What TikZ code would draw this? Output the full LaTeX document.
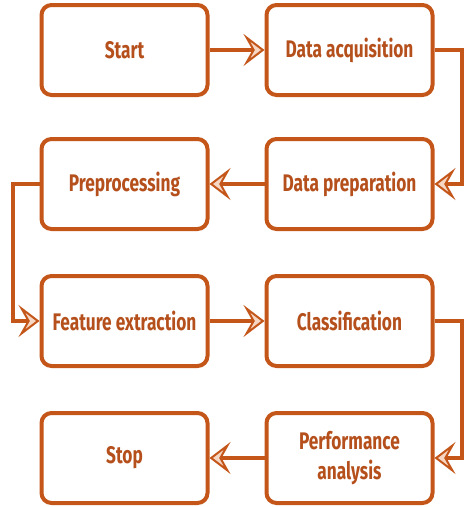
\documentclass[tikz,border=0pt]{standalone}
\usepackage{fontspec}
\setmainfont{Fira Sans}
\newfontfamily\boxfont[FakeStretch=0.72]{Fira Sans}
\usetikzlibrary{arrows.meta}
\definecolor{boxorange}{HTML}{C4561A}
\definecolor{txtorange}{HTML}{B5501C}
\definecolor{tipfill}{HTML}{F6D7C4}
\tikzset{
  stepbox/.style={draw=boxorange, line width=4pt, rounded corners=10pt, fill=white,
    minimum width=166pt, minimum height=90pt, inner sep=0pt,
    text=txtorange, font=\boxfont\fontsize{24}{30}\selectfont\bfseries, align=center},
  flow/.style={draw=boxorange, line width=4.5pt,
    -{Stealth[length=21pt, width=32pt, inset=9pt, fill=tipfill, line width=2pt]}}
}
\begin{document}
\begin{tikzpicture}[x=1pt, y=-1pt]
\useasboundingbox (0,0) rectangle (474,507);
\node[stepbox] (start) at (124.5,50) {Start};
\node[stepbox] (acq)   at (349.5,50) {Data acquisition};
\node[stepbox] (prep)  at (349.5,184) {Data preparation};
\node[stepbox] (pre)   at (124.5,184) {Preprocessing};
\node[stepbox] (feat)  at (124.5,321) {Feature extraction};
\node[stepbox] (cls)   at (349.5,321) {Classification};
\node[stepbox] (perf)  at (349.5,458) {Performance\\analysis};
\node[stepbox] (stop)  at (124.5,458) {Stop};
\coordinate (r1) at (462,50);
\coordinate (r2) at (462,184);
\coordinate (l1) at (13,184);
\coordinate (l2) at (13,321);
\coordinate (r3) at (462,321);
\coordinate (r4) at (462,458);
\draw[flow] (start.east) -- (acq.west);
\draw[flow] (acq.east) -- (r1) -- (r2) -- (prep.east);
\draw[flow] (prep.west) -- (pre.east);
\draw[flow] (pre.west) -- (l1) -- (l2) -- (feat.west);
\draw[flow] (feat.east) -- (cls.west);
\draw[flow] (cls.east) -- (r3) -- (r4) -- (perf.east);
\draw[flow] (perf.west) -- (stop.east);
\end{tikzpicture}
\end{document}
